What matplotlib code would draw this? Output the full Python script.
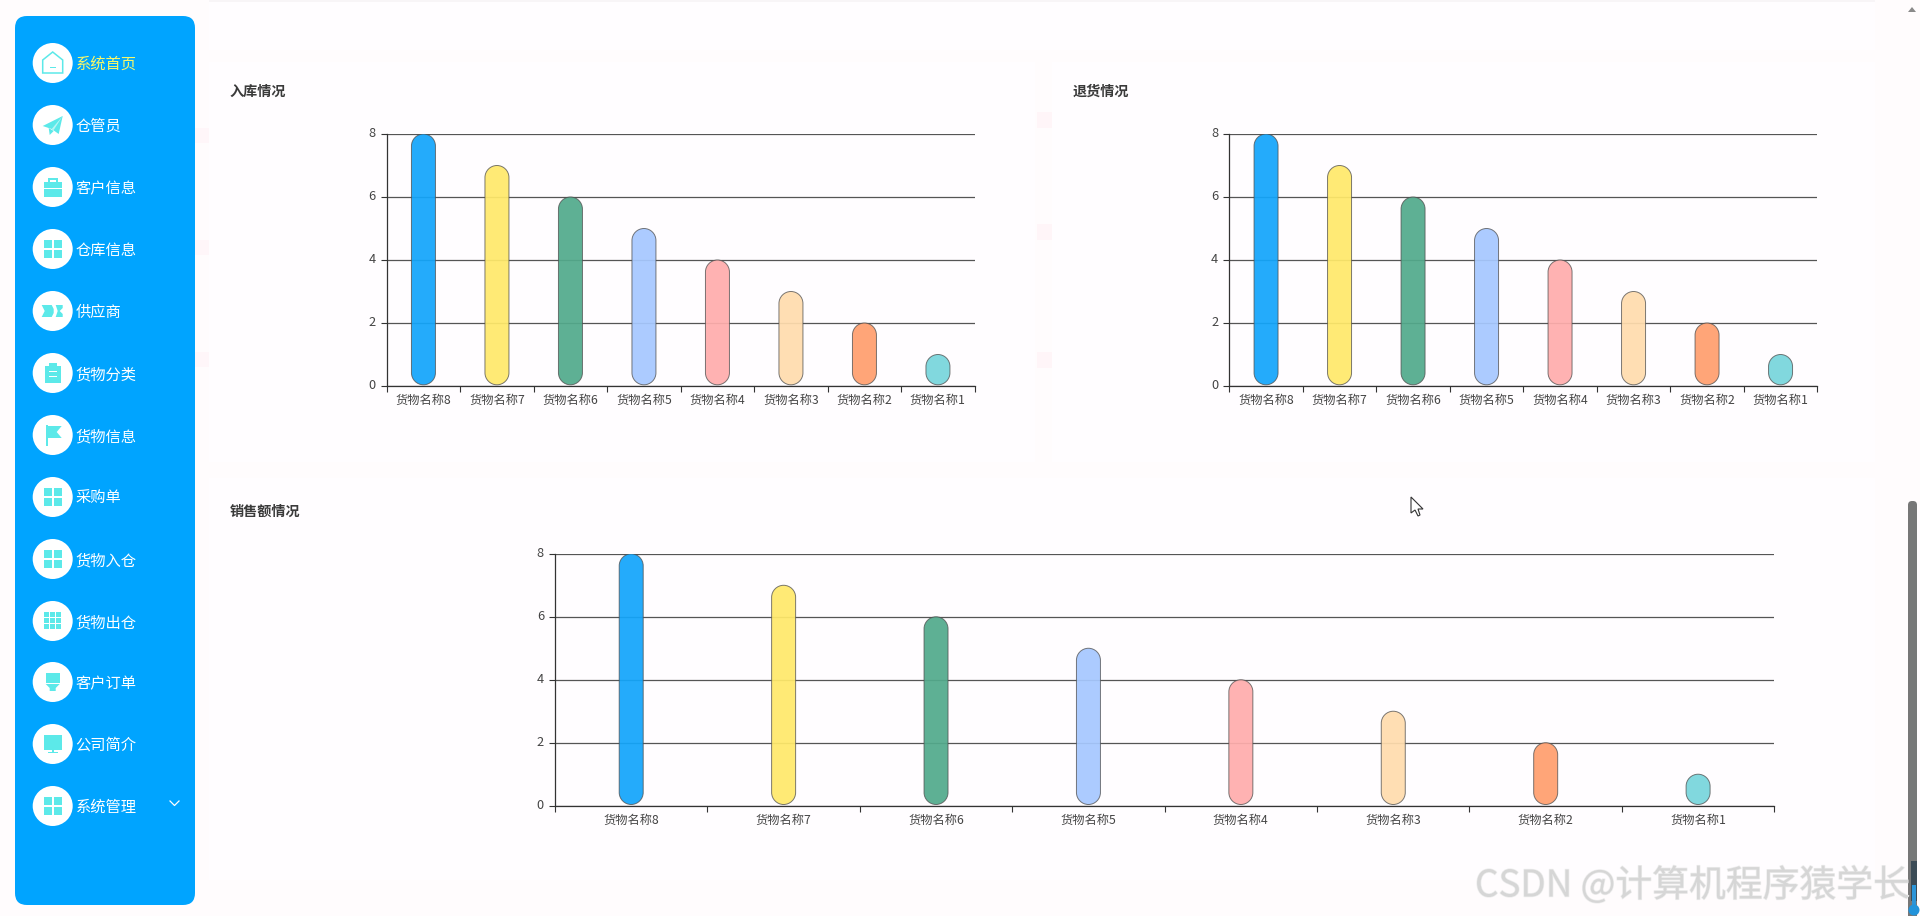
import matplotlib
matplotlib.use("Agg")
import matplotlib.pyplot as plt
import matplotlib.patches as mpatches
import matplotlib.patheffects as path_effects
from matplotlib.colors import to_rgba
from matplotlib.path import Path
from matplotlib.transforms import ScaledTranslation

plt.rcParams["font.family"] = ["Noto Sans CJK SC", "DejaVu Sans"]

W, H = 1920, 916

categories = ["货物名称8", "货物名称7", "货物名称6", "货物名称5",
              "货物名称4", "货物名称3", "货物名称2", "货物名称1"]
inbound_values = [8, 7, 6, 5, 4, 3, 2, 1]
returns_values = [8, 7, 6, 5, 4, 3, 2, 1]
sales_values = [8, 7, 6, 5, 4, 3, 2, 1]
y_ticks = [0, 2, 4, 6, 8]

menu_labels = ["系统首页", "仓管员", "客户信息", "仓库信息", "供应商", "货物分类", "货物信息",
               "采购单", "货物入仓", "货物出仓", "客户订单", "公司简介", "系统管理"]
menu_icons = ["house", "plane", "case", "grid", "ticket", "clip", "flag",
              "grid", "grid", "grid3", "pin", "screen", "grid"]
menu_y = [63, 125, 187, 249, 311, 373, 435, 497, 559, 621, 682, 744, 806]

BAR_COLORS = ["#13A5FB", "#FFE96A", "#52AA8C", "#A6C8FF",
              "#FFADAC", "#FFDCAD", "#FF9E6E", "#78D6DC"]
PAGE_BG = "#FFFCFD"
PANEL_BG = "#FFFDFF"
SIDEBAR = "#00A4FF"
ICON = "#5CE9E9"
INK = "#444444"
KAPPA = 0.5523


def px_axes(fig, left, top, right, bottom):
    """Axes placed by screen pixels, y counted from the top."""
    return fig.add_axes([left / W, 1 - bottom / H, (right - left) / W, (bottom - top) / H])


def pill_path(x0, x1, y0, y1, rx, ry):
    """Rounded bar outline with circular corners, given in data units."""
    kx, ky = rx * (1 - KAPPA), ry * (1 - KAPPA)
    verts = [(x0 + rx, y0), (x1 - rx, y0),
             (x1 - kx, y0), (x1, y0 + ky), (x1, y0 + ry),
             (x1, y1 - ry),
             (x1, y1 - ky), (x1 - kx, y1), (x1 - rx, y1),
             (x0 + rx, y1),
             (x0 + kx, y1), (x0, y1 - ky), (x0, y1 - ry),
             (x0, y0 + ry),
             (x0, y0 + ky), (x0 + kx, y0), (x0 + rx, y0),
             (x0 + rx, y0)]
    codes = [Path.MOVETO, Path.LINETO,
             Path.CURVE4, Path.CURVE4, Path.CURVE4,
             Path.LINETO,
             Path.CURVE4, Path.CURVE4, Path.CURVE4,
             Path.LINETO,
             Path.CURVE4, Path.CURVE4, Path.CURVE4,
             Path.LINETO,
             Path.CURVE4, Path.CURVE4, Path.CURVE4,
             Path.CLOSEPOLY]
    return Path(verts, codes)


def draw_chart(fig, box, values, title, title_xy, ui):
    left, top, right, bottom = box
    ax = px_axes(fig, left, top, right, bottom)
    ax.patch.set_alpha(0)
    ax.set_xlim(0, len(values))
    ax.set_ylim(0, 8)

    unit_x = (right - left) / len(values)
    unit_y = (bottom - top) / 8
    half = 12 / unit_x
    base = 1.2 / unit_y
    for i, v in enumerate(values):
        cx = i + 0.5
        path = pill_path(cx - half, cx + half, base, v, 12 / unit_x, 12 / unit_y)
        ax.add_patch(mpatches.PathPatch(
            path, facecolor=to_rgba(BAR_COLORS[i], 0.93),
            edgecolor=(0.3, 0.3, 0.3, 0.75), linewidth=0.7, zorder=3))

    ax.set_yticks(y_ticks)
    ax.set_yticklabels([str(t) for t in y_ticks], fontsize=9.2, color=INK)
    ax.set_xticks(range(len(values) + 1))
    ax.set_xticklabels([])
    ax.set_xticks([i + 0.5 for i in range(len(values))], minor=True)
    ax.set_xticklabels(categories, minor=True, fontsize=8.8, color=INK)
    ax.tick_params(axis="x", which="major", length=4, width=0.8, color="#333333")
    ax.tick_params(axis="x", which="minor", length=0, pad=6)
    ax.tick_params(axis="y", length=4, width=0.8, color="#333333", pad=4)
    lift = ScaledTranslation(0, 1.2 / 72, fig.dpi_scale_trans)
    for label in ax.get_yticklabels():
        label.set_transform(label.get_transform() + lift)
    ax.grid(axis="y", color="#555555", linewidth=0.9, zorder=1)
    ax.set_axisbelow(True)
    for side in ["top", "right"]:
        ax.spines[side].set_visible(False)
    for side in ["left", "bottom"]:
        ax.spines[side].set_color("#333333")
        ax.spines[side].set_linewidth(0.9)

    ui.text(title_xy[0], title_xy[1], title, fontsize=10.2, fontweight="bold",
            color="#3A3A3A", ha="left", va="center")
    return ax


def draw_icon(ui, kind, cx, cy):
    def rect(x, y, w, h, **kw):
        ui.add_patch(mpatches.Rectangle((cx + x, cy + y), w, h, facecolor=kw.get("fc", ICON),
                                        edgecolor="none", zorder=5))

    def poly(points, fc=ICON, ec="none", lw=0):
        ui.add_patch(mpatches.Polygon([(cx + a, cy + b) for a, b in points], closed=True,
                                      facecolor=fc, edgecolor=ec, linewidth=lw, zorder=5))

    if kind == "house":
        poly([(-10, -3), (0, -11), (10, -3), (10, 10), (-10, 10)], fc="white", ec=ICON, lw=1.1)
        rect(-3, 4, 6, 1)
    elif kind == "plane":
        poly([(-10, 1), (10, -9), (6, 9), (-1, 4)])
        poly([(-4, 3), (-3, 10), (1, 6)])
        poly([(-1, 4), (10, -9), (1, 5)], fc="#B6F5F5")
    elif kind == "case":
        rect(-9, -5, 18, 15)
        rect(-5, -9, 10, 2)
        rect(-5, -9, 2, 5)
        rect(3, -9, 2, 5)
        rect(-9, 1, 18, 1, fc="white")
    elif kind == "grid":
        for dx in (-9, 1):
            for dy in (-9, 1):
                rect(dx, dy, 8, 8)
    elif kind == "grid3":
        for dx in (-9, -3, 3):
            for dy in (-9, -3, 3):
                rect(dx, dy, 5, 5)
    elif kind == "ticket":
        poly([(-11, -6), (-1, -6), (1, -2), (1, 2), (-1, 6), (-11, 6), (-8, 0)])
        poly([(3, -6), (10, -6), (10, -3), (7, 0), (10, 3), (10, 6), (3, 6), (5, 0)])
    elif kind == "clip":
        rect(-8, -7, 16, 17)
        rect(-4, -10, 8, 4)
        rect(-4, -2, 8, 1, fc="white")
        rect(-4, 3, 8, 1, fc="white")
    elif kind == "flag":
        rect(-7, -10, 2, 21)
        poly([(-5, -9), (9, -9), (4, -3), (9, 3), (-5, 3)])
    elif kind == "pin":
        rect(-7, -9, 14, 10)
        poly([(-7, 2), (7, 2), (3, 6), (3, 9), (-3, 9), (-3, 6)])
    elif kind == "screen":
        rect(-9, -9, 18, 15)
        rect(-1, 6, 2, 3)
        rect(-5, 8, 10, 1)


def draw_sidebar(ui):
    ui.add_patch(mpatches.FancyBboxPatch(
        (15, 16), 180, 889, boxstyle="round,pad=0,rounding_size=12",
        facecolor=SIDEBAR, edgecolor="none", zorder=2))
    for i, (label, kind, y) in enumerate(zip(menu_labels, menu_icons, menu_y)):
        ui.add_patch(mpatches.Ellipse((52.7, y), 40, 40, facecolor="white", edgecolor="none", zorder=4))
        draw_icon(ui, kind, 52.7, y)
        ui.text(75.5, y + 1.5, label, fontsize=11, ha="left", va="center",
                color="#F7F76A" if i == 0 else "white", zorder=5)
    ui.plot([170, 174.5, 179], [801, 805.5, 801], color="white", linewidth=0.9, zorder=5)


def draw_page(ui):
    ui.add_patch(mpatches.Rectangle((209, 0), 1666, 50, facecolor=PANEL_BG, edgecolor="none"))
    ui.add_patch(mpatches.Rectangle((209, 62), 826, 400, facecolor=PANEL_BG, edgecolor="none"))
    ui.add_patch(mpatches.Rectangle((1052, 62), 823, 400, facecolor=PANEL_BG, edgecolor="none"))
    ui.add_patch(mpatches.Rectangle((209, 478), 1666, 402, facecolor=PANEL_BG, edgecolor="none"))
    ui.add_patch(mpatches.Rectangle((209, 0), 1666, 2, facecolor="#F8F5F7", edgecolor="none"))
    for y in (128, 240, 352):
        ui.add_patch(mpatches.Rectangle((195, y), 14, 15, facecolor="#FFF6F9", edgecolor="none"))
    for y in (112, 224, 352):
        ui.add_patch(mpatches.Rectangle((1037, y), 15, 16, facecolor="#FFF5F8", edgecolor="none"))


def draw_overlays(ui):
    # scrollbar
    ui.add_patch(mpatches.Polygon([(1908, 12), (1912, 7), (1916, 12)], closed=True,
                                  facecolor="#8A8A8A", edgecolor="none", zorder=5))
    ui.add_patch(mpatches.FancyBboxPatch(
        (1908, 501), 9, 420, boxstyle="round,pad=0,rounding_size=4",
        facecolor="#777777", edgecolor="none", zorder=5))
    ui.add_patch(mpatches.Rectangle((1911, 861), 6, 40, facecolor="#3C4A55", edgecolor="none", zorder=6))
    ui.add_patch(mpatches.Rectangle((1912, 885), 4, 24, facecolor="#2C94D8", edgecolor="none", zorder=7))
    ui.add_patch(mpatches.Ellipse((1914, 910), 11, 11, facecolor="#2293DA", edgecolor="none", zorder=7))
    # mouse cursor
    ui.add_patch(mpatches.Polygon(
        [(1411, 497), (1411, 513), (1415, 510), (1418, 516), (1420, 515), (1418, 509), (1423, 509)],
        closed=True, facecolor="white", edgecolor="#333333", linewidth=0.8, zorder=6))


def main():
    fig = plt.figure(figsize=(W / 100, H / 100), dpi=100, facecolor=PAGE_BG)

    ui = fig.add_axes([0, 0, 1, 1], zorder=-1)
    ui.set_xlim(0, W)
    ui.set_ylim(H, 0)
    ui.axis("off")

    draw_page(ui)
    draw_sidebar(ui)
    draw_overlays(ui)

    draw_chart(fig, (386.7, 134, 974.7, 386), inbound_values, "入库情况", (230, 92), ui)
    draw_chart(fig, (1229.3, 134, 1817.3, 386), returns_values, "退货情况", (1073, 92), ui)
    draw_chart(fig, (555, 553.8, 1774.3, 805.7), sales_values, "销售额情况", (230, 512), ui)

    mark = fig.text(1475 / W, 1 - 886 / H, "CSDN @计算机程序猿学长", fontsize=26.5,
                    color="#D6D6D6", ha="left", va="center", zorder=10)
    mark.set_path_effects([path_effects.withStroke(linewidth=1.0, foreground="#EDEDED")])

    fig.savefig("out.png", dpi=100, facecolor=fig.get_facecolor())
    plt.close(fig)


if __name__ == "__main__":
    main()
